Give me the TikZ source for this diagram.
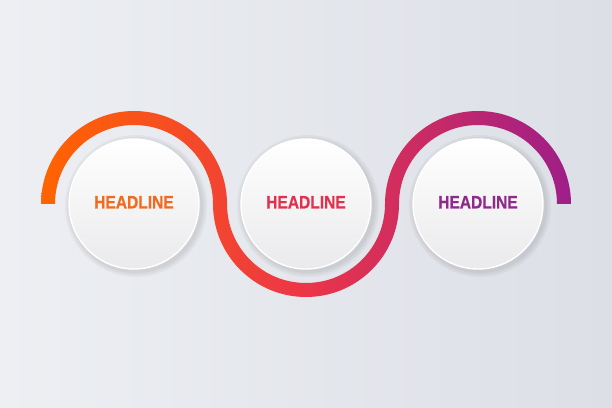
\documentclass[tikz,border=0pt]{standalone}
\usepackage{fontspec}
\setmainfont{Liberation Sans}
\newfontfamily\headfont[FakeStretch=0.86, BoldFeatures={FakeBold=0.6}]{Liberation Sans}
\usetikzlibrary{positioning}

\definecolor{bgLight}{HTML}{EDEFF3}
\definecolor{bgDark}{HTML}{DCDFE6}
\definecolor{circleGray}{HTML}{EAEAEC}
\definecolor{headOrange}{HTML}{F26A1F}
\definecolor{headRed}{HTML}{E2304F}
\definecolor{headPurple}{HTML}{8F2A8C}
\definecolor{bandOrange}{HTML}{FF6400}
\definecolor{bandRed}{HTML}{EC3548}
\definecolor{bandPurple}{HTML}{9E1E88}
\pgfdeclarehorizontalshading{bandshade}{100bp}{color(0bp)=(bandOrange); color(25bp)=(bandOrange); color(50bp)=(bandRed); color(75bp)=(bandPurple); color(100bp)=(bandPurple)}

\begin{document}
\begin{tikzpicture}[
    x=0.02cm, y=0.02cm,
    headcircle/.style={circle, minimum size=2.6cm, inner sep=0pt, top color=white, bottom color=circleGray, draw=white, line width=0.8pt},
    headline/.style={font=\headfont\bfseries\fontsize{10.3}{12}\selectfont},
    headshadow/.style={fill=black, opacity=0.035}
]

% Background
\shade[left color=bgLight, right color=bgDark] (0,0) rectangle (612,408);
\useasboundingbox (0,0) rectangle (612,408);

% Band
\shade[shading=bandshade] (41,204)
    arc[start angle=180, end angle=0, radius=93]
    arc[start angle=180, end angle=360, radius=79]
    arc[start angle=180, end angle=0, radius=93]
    -- (557,204)
    arc[start angle=0, end angle=180, radius=79]
    arc[start angle=0, end angle=-180, radius=93]
    arc[start angle=0, end angle=180, radius=79]
    -- cycle;

% Shadows
\foreach \cx in {134,306,478}
  \foreach \r in {71,69,67}
    \fill[headshadow] (\cx+2,202) circle[radius=\r];

% Nodes
\node (head1) [headcircle] at (134,204) {};
\node (head2) [headcircle] at (306,204) {};
\node (head3) [headcircle] at (478,204) {};

% Labels
\node (text1) [headline, text=headOrange] at ([yshift=1] head1.center) {HEADLINE};
\node (text2) [headline, text=headRed] at ([yshift=1] head2.center) {HEADLINE};
\node (text3) [headline, text=headPurple] at ([yshift=1] head3.center) {HEADLINE};

\end{tikzpicture}
\end{document}
